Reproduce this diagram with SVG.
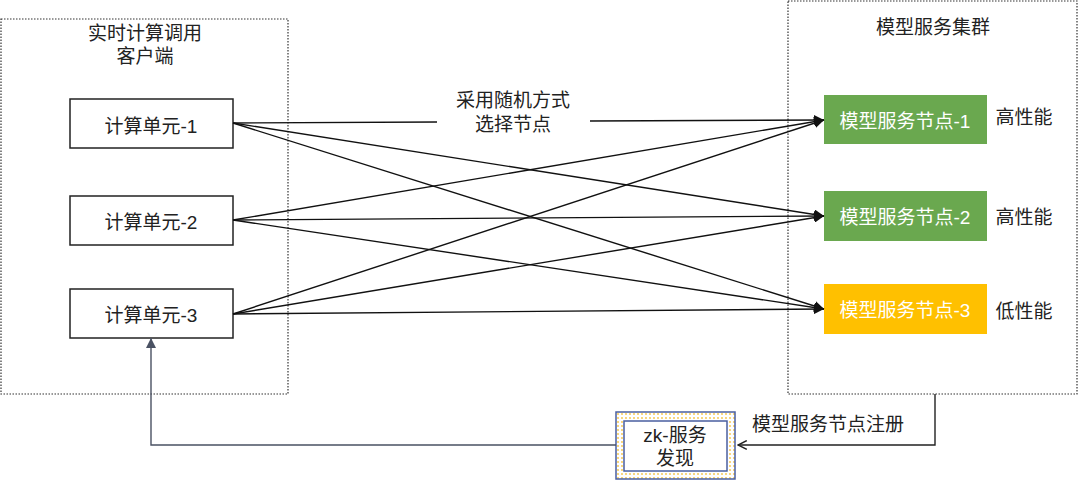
<svg xmlns="http://www.w3.org/2000/svg" width="1080" height="480" viewBox="0 0 1080 480">
<style>
text{font-family:"Liberation Sans","Noto Sans CJK SC",sans-serif;font-size:19px;fill:#222;text-anchor:middle}
.box{fill:#fff;stroke:#222;stroke-width:1.5}
.cont{fill:none;stroke:#333;stroke-width:1.2;stroke-dasharray:1.5 1.5}
.e{stroke:#111;stroke-width:1.4;fill:none;marker-end:url(#ah)}
.w{fill:#fff}
</style>
<defs>
<marker id="ah" viewBox="0 0 10 10" refX="10" refY="5" markerWidth="10" markerHeight="10" markerUnits="userSpaceOnUse" orient="auto"><path d="M0,0 L10,5 L0,10 z" fill="#111"/></marker>
<marker id="ah2" viewBox="0 0 10 10" refX="10" refY="5" markerWidth="10" markerHeight="10" markerUnits="userSpaceOnUse" orient="auto"><path d="M0,0 L10,5 L0,10 z" fill="#4a5263"/></marker>
<marker id="open" viewBox="0 0 10 10" refX="9" refY="5" markerWidth="11" markerHeight="11" markerUnits="userSpaceOnUse" orient="auto"><path d="M1,1 L9,5 L1,9" fill="none" stroke="#222" stroke-width="1.4"/></marker>
<pattern id="dots" width="4" height="4" patternUnits="userSpaceOnUse"><rect width="4" height="4" fill="#fff"/><circle cx="2" cy="2" r="0.9" fill="#f5c342"/></pattern>
</defs>

<g id="client">
<rect class="cont" x="1" y="19" width="287" height="375"/>
<text x="145" y="40">实时计算调用</text>
<text x="145" y="63">客户端</text>
</g>
<g id="cluster">
<rect class="cont" x="788" y="1" width="289" height="393"/>
<text x="933" y="34">模型服务集群</text>
</g>

<g id="c1"><rect class="box" x="70" y="99" width="163" height="49"/><text x="151" y="133">计算单元-1</text></g>
<g id="c2"><rect class="box" x="70" y="196" width="163" height="49"/><text x="151" y="229">计算单元-2</text></g>
<g id="c3"><rect class="box" x="70" y="289" width="163" height="49"/><text x="151" y="322">计算单元-3</text></g>

<g id="n1"><rect x="824" y="95" width="163" height="49" fill="#6aa84f"/><text class="w" x="905" y="128">模型服务节点-1</text><text x="1024" y="124">高性能</text></g>
<g id="n2"><rect x="824" y="191" width="163" height="50" fill="#6aa84f"/><text class="w" x="905" y="224">模型服务节点-2</text><text x="1024" y="224">高性能</text></g>
<g id="n3"><rect x="824" y="284" width="163" height="50" fill="#ffc000"/><text class="w" x="905" y="317">模型服务节点-3</text><text x="1024" y="318">低性能</text></g>

<g id="zk">
<rect x="616" y="412" width="119" height="67" fill="url(#dots)" stroke="#4a5fa0" stroke-width="1.5"/>
<rect x="624" y="421" width="103" height="50" fill="#fff" stroke="#4a5fa0" stroke-width="1.5"/>
<text x="675" y="442">zk-服务</text>
<text x="675" y="465">发现</text>
</g>

<g id="connectors">
<line x1="233" y1="123" x2="437" y2="122" stroke="#111" stroke-width="1.4"/>
<line class="e" x1="590" y1="121" x2="824" y2="120"/>
<text x="513" y="107">采用随机方式</text>
<text x="513" y="131">选择节点</text>
<line class="e" x1="233" y1="123" x2="824" y2="216"/>
<line class="e" x1="233" y1="123" x2="824" y2="309"/>
<line class="e" x1="233" y1="220" x2="824" y2="120"/>
<line class="e" x1="233" y1="220" x2="824" y2="216"/>
<line class="e" x1="233" y1="220" x2="824" y2="309"/>
<line class="e" x1="233" y1="314" x2="824" y2="120"/>
<line class="e" x1="233" y1="314" x2="824" y2="216"/>
<line class="e" x1="233" y1="314" x2="824" y2="309"/>
<polyline points="935,394 935,445 738,445" fill="none" stroke="#222" stroke-width="1.4" marker-end="url(#open)"/>
<text x="828" y="431">模型服务节点注册</text>
<polyline points="616,445 151,445 151,338" fill="none" stroke="#4a5263" stroke-width="1.4" marker-end="url(#ah2)"/>
</g>
</svg>
